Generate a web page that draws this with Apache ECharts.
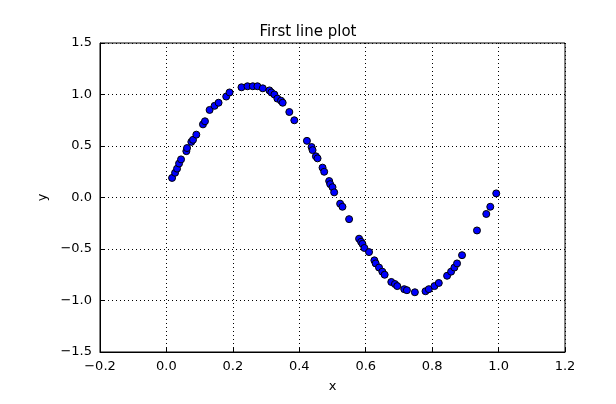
<!DOCTYPE html>
<html><head><meta charset="utf-8">
<script src="https://cdn.jsdelivr.net/npm/echarts@6/dist/echarts.min.js"></script>
<style>html,body{margin:0;background:#fff}#c{width:616px;height:404px}</style>
</head><body><div id="c"></div>
<script>
var xs = [0.017,0.026,0.032,0.038,0.044,0.06,0.062,0.075,0.08,0.09,0.11,0.116,0.13,0.145,0.157,0.18,0.19,0.226,0.244,0.26,0.274,0.29,0.31,0.316,0.325,0.334,0.345,0.35,0.37,0.385,0.423,0.437,0.44,0.45,0.455,0.47,0.475,0.49,0.493,0.5,0.505,0.523,0.53,0.55,0.58,0.586,0.59,0.596,0.61,0.626,0.63,0.64,0.65,0.657,0.677,0.688,0.695,0.716,0.724,0.748,0.78,0.79,0.807,0.82,0.845,0.857,0.867,0.875,0.89,0.935,0.963,0.975,0.993];
var ys = [0.19,0.24,0.28,0.33,0.37,0.45,0.48,0.54,0.56,0.61,0.71,0.74,0.85,0.89,0.92,0.98,1.02,1.07,1.08,1.08,1.08,1.06,1.04,1.02,1.0,0.96,0.94,0.92,0.83,0.75,0.55,0.49,0.46,0.40,0.38,0.29,0.25,0.16,0.13,0.10,0.05,-0.06,-0.09,-0.21,-0.40,-0.43,-0.45,-0.49,-0.53,-0.61,-0.64,-0.68,-0.72,-0.75,-0.82,-0.84,-0.86,-0.89,-0.90,-0.92,-0.91,-0.89,-0.86,-0.83,-0.76,-0.72,-0.68,-0.64,-0.56,-0.32,-0.16,-0.09,0.04];
var pts = xs.map(function(x, i) { return [x, ys[i]]; });
var font = 'DejaVu Sans';
var ax = {
	axisLine: {show: true, onZero: false, lineStyle: {color: '#000'}},
	axisTick: {inside: true, length: 5, lineStyle: {color: '#000'}},
	axisLabel: {color: '#000', fontFamily: font, fontSize: 13},
	splitLine: {show: true, lineStyle: {color: '#000', type: [1, 3], width: 1}},
	nameTextStyle: {color: '#000', fontFamily: font, fontSize: 13}
};
var chart = echarts.init(document.getElementById('c'));
chart.setOption({
	animation: false,
	title: {text: 'First line plot', left: 'center', top: 20,
		textStyle: {fontFamily: font, fontSize: 15, fontWeight: 'normal', color: '#000'}},
	grid: {left: 100, right: 51, top: 43, bottom: 52, show: true, borderColor: '#000', borderWidth: 1},
	xAxis: Object.assign({}, ax, {type: 'value', min: -0.2, max: 1.2, interval: 0.2,
		name: 'x', nameLocation: 'middle', nameGap: 28,
		axisLabel: Object.assign({}, ax.axisLabel, {margin: 8, formatter: function(v) { return v.toFixed(1).replace('-', '\u2212'); }})}),
	yAxis: Object.assign({}, ax, {type: 'value', min: -1.5, max: 1.5, interval: 0.5,
		name: 'y', nameLocation: 'middle', nameGap: 48,
		axisLabel: Object.assign({}, ax.axisLabel, {margin: 8, formatter: function(v) { return v.toFixed(1).replace('-', '\u2212'); }})}),
	series: [{type: 'scatter', data: pts, symbolSize: 7,
		itemStyle: {color: '#0000ff', borderColor: '#000', borderWidth: 1, opacity: 1}}]
});
</script></body></html>
